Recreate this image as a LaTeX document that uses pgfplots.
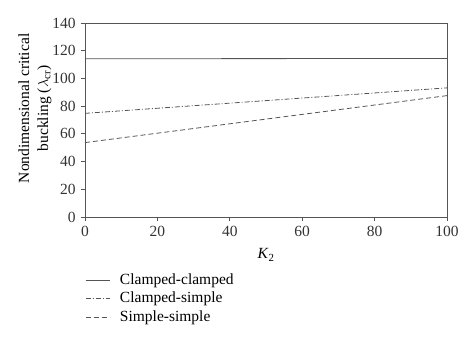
\documentclass[border=0pt]{standalone}
\usepackage{pgfplots}
\pgfplotsset{compat=1.18}
\usepackage{fontspec}
\setmainfont{Liberation Serif}
\definecolor{ln}{RGB}{85,85,85}
\begin{document}
\fontsize{15.5}{18}\selectfont
\begin{tikzpicture}
\begin{axis}[
  scale only axis,
  width=362pt, height=194pt,
  xmin=0, xmax=100, ymin=0, ymax=140,
  xtick={0,20,...,100}, ytick={0,20,...,140},
  tick align=outside, xtick pos=left, ytick pos=left,
  major tick length=4pt,
  axis line style={ln, line width=0.8pt},
  tick style={ln, line width=0.8pt},
  /pgf/number format/assume math mode=true,
  tick label style={font=\fontsize{15.5}{18}\selectfont, text=black!80},
  xlabel={\textit{K}\textsubscript{2}},
  xlabel style={at={(axis description cs:0.5,-0.196)}, anchor=center, font=\fontsize{15.5}{18}\selectfont},
  ylabel={Nondimensional critical\\buckling ($\lambda_{\mathrm{cr}}$)},
  ylabel style={at={(axis description cs:-0.138,0.56)}, anchor=center, align=center, font=\fontsize{15.5}{19}\selectfont},
  legend style={at={(axis description cs:0,-0.27)}, anchor=north west, draw=none, fill=none,
    font=\fontsize{15.5}{18}\selectfont, row sep=1.5pt, inner xsep=0pt,
    /tikz/every odd column/.append style={column sep=8pt}},
  legend cell align=left,
  legend image code/.code={\draw[#1] (0pt,0pt) -- (24pt,0pt);},
]
\addplot[ln, line width=0.8pt] coordinates {(0,114.2) (100,114.4)};
\addlegendentry{Clamped-clamped}
\addplot[ln, line width=0.8pt, dash pattern=on 5pt off 2pt on 1pt off 2pt] coordinates {(0,74.8) (100,93.2)};
\addlegendentry{Clamped-simple}
\addplot[ln, line width=0.8pt, dash pattern=on 5pt off 3pt] coordinates {(0,53.7) (100,87.6)};
\addlegendentry{Simple-simple}
\end{axis}
\path[use as bounding box] (current axis.south west) ++(-85pt,-129pt) rectangle ++(474pt,346pt);
\end{tikzpicture}
\end{document}
